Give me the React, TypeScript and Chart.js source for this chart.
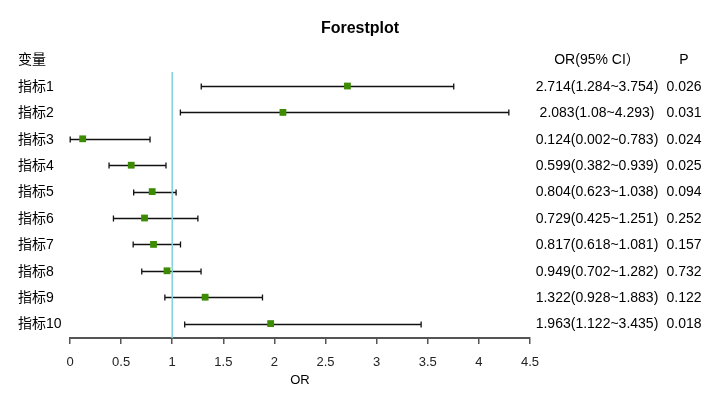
import React, { useEffect, useRef } from "react";
import { Chart, registerables } from "chart.js";

Chart.register(...registerables);

const labels = ["指标1", "指标2", "指标3", "指标4", "指标5", "指标6", "指标7", "指标8", "指标9", "指标10"];
const orValues = [2.714, 2.083, 0.124, 0.599, 0.804, 0.729, 0.817, 0.949, 1.322, 1.963];
const lowerCI = [1.284, 1.08, 0.002, 0.382, 0.623, 0.425, 0.618, 0.702, 0.928, 1.122];
const upperCI = [3.754, 4.293, 0.783, 0.939, 1.038, 1.251, 1.081, 1.282, 1.883, 3.435];
const pValues = [0.026, 0.031, 0.024, 0.025, 0.094, 0.252, 0.157, 0.732, 0.122, 0.018];
const xTicks = [0, 0.5, 1, 1.5, 2, 2.5, 3, 3.5, 4, 4.5];

const titleText = "Forestplot";
const headerLabel = "变量";
const headerOR = "OR(95% CI）";
const headerP = "P";
const xTitle = "OR";

const FONT = '"Liberation Sans", Arial, "Noto Sans CJK SC", sans-serif';

const forestPlugin = {
  id: "forest",
  beforeDatasetsDraw(chart: any) {
    const { ctx, scales, chartArea } = chart;
    const x = scales.x;
    const y = scales.y;
    ctx.save();
    ctx.strokeStyle = "#111";
    ctx.lineWidth = 1.3;
    for (let i = 0; i < orValues.length; i++) {
      const yy = Math.round(y.getPixelForValue(i + 1)) + 0.5;
      const x1 = x.getPixelForValue(lowerCI[i]);
      const x2 = x.getPixelForValue(upperCI[i]);
      ctx.beginPath();
      ctx.moveTo(x1, yy);
      ctx.lineTo(x2, yy);
      ctx.moveTo(x1, yy - 3);
      ctx.lineTo(x1, yy + 3);
      ctx.moveTo(x2, yy - 3);
      ctx.lineTo(x2, yy + 3);
      ctx.stroke();
    }
    // reference line at OR = 1
    const rx = x.getPixelForValue(1);
    ctx.strokeStyle = "#7fd3df";
    ctx.lineWidth = 1.5;
    ctx.beginPath();
    ctx.moveTo(rx, chartArea.top);
    ctx.lineTo(rx, chartArea.bottom);
    ctx.stroke();
    ctx.restore();
  },
  afterDraw(chart: any) {
    const { ctx, scales, chartArea } = chart;
    const y = scales.y;
    ctx.save();
    ctx.fillStyle = "#000";
    ctx.textBaseline = "middle";
    // title
    ctx.font = "bold 16px " + FONT;
    ctx.textAlign = "center";
    ctx.fillText(titleText, 360, 29);
    // header
    ctx.font = "14px " + FONT;
    const hy = y.getPixelForValue(0) + 1;
    ctx.textAlign = "left";
    ctx.fillText(headerLabel, 18, hy);
    ctx.textAlign = "center";
    ctx.fillText(headerOR, 597, hy);
    ctx.fillText(headerP, 684, hy);
    for (let i = 0; i < labels.length; i++) {
      const yy = y.getPixelForValue(i + 1) + 1;
      ctx.textAlign = "left";
      ctx.fillText(labels[i], 18, yy);
      ctx.textAlign = "center";
      ctx.fillText(
        orValues[i].toFixed(3) + "(" + String(lowerCI[i]) + "~" + String(upperCI[i]) + ")",
        597,
        yy
      );
      ctx.fillText(pValues[i].toFixed(3), 684, yy);
    }
    // x title
    ctx.font = "13px " + FONT;
    ctx.fillText(xTitle, (chartArea.left + chartArea.right) / 2, 380);
    ctx.restore();
  },
};

export default function App() {
  const canvasRef = useRef<HTMLCanvasElement | null>(null);

  useEffect(() => {
    const canvas = canvasRef.current;
    if (!canvas) return;
    const chart = new Chart(canvas, {
      type: "scatter",
      data: {
        datasets: [
          {
            data: orValues.map((v, i) => ({ x: v, y: i + 1 })),
            backgroundColor: "#3d8b00",
            borderColor: "#3d8b00",
            borderWidth: 0,
            pointStyle: "rect",
            pointRadius: 4.8,
            pointHoverRadius: 4.8,
            clip: false,
          } as any,
        ],
      },
      options: {
        responsive: false,
        animation: false,
        devicePixelRatio: 1,
        layout: { padding: { left: 70, right: 190, top: 72, bottom: 33 } },
        plugins: {
          legend: { display: false },
          tooltip: { enabled: false },
          title: { display: false },
        },
        scales: {
          x: {
            type: "linear",
            min: 0,
            max: 4.5,
            afterFit: (scale: any) => {
              scale.height = 40;
            },
            afterBuildTicks: (scale: any) => {
              scale.ticks = xTicks.map((v) => ({ value: v }));
            },
            border: { display: true, color: "#555", width: 2 },
            grid: {
              display: true,
              drawOnChartArea: false,
              drawTicks: true,
              tickLength: 6,
              color: "#555",
              lineWidth: 1.5,
            },
            ticks: {
              autoSkip: false,
              maxRotation: 0,
              padding: 11,
              color: "#222",
              font: { size: 13, family: FONT },
              callback: (v: any) => String(v),
            },
          },
          y: {
            type: "linear",
            display: false,
            reverse: true,
            min: 0.469,
            max: 10.546,
          },
        },
      },
      plugins: [forestPlugin],
    });
    return () => chart.destroy();
  }, []);

  return (
    <div style={{ position: "absolute", left: 0, top: 0, width: 720, height: 411, background: "#fff" }}>
      <canvas ref={canvasRef} width={720} height={411} style={{ width: 720, height: 411, display: "block" }} />
    </div>
  );
}
